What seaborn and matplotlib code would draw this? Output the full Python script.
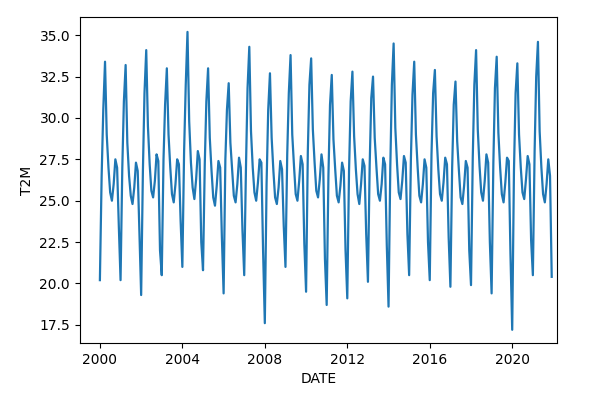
import pandas as pd
import matplotlib.pyplot as plt
import matplotlib.dates as mdates
import seaborn as sns

# monthly T2M values, Jan..Dec per year
t2m_2000 = [20.2, 26.5, 30.5, 33.4, 29.0, 27.0, 25.5, 25.0, 26.0, 27.5, 27.0, 23.5]
t2m_2001 = [20.2, 27.0, 31.0, 33.2, 28.5, 26.5, 25.3, 24.8, 25.8, 27.3, 26.8, 23.0]
t2m_2002 = [19.3, 26.8, 31.5, 34.1, 29.5, 27.2, 25.6, 25.2, 26.2, 27.8, 27.4, 22.0]
t2m_2003 = [20.5, 27.5, 30.8, 33.0, 29.0, 27.0, 25.4, 24.9, 26.0, 27.5, 27.2, 23.8]
t2m_2004 = [21.0, 28.0, 32.0, 35.2, 29.8, 27.3, 25.8, 25.1, 26.3, 28.0, 27.5, 22.5]
t2m_2005 = [20.8, 27.2, 31.0, 33.0, 28.8, 26.8, 25.2, 24.7, 25.9, 27.4, 27.0, 22.8]
t2m_2006 = [19.4, 27.5, 30.5, 32.1, 28.5, 26.9, 25.3, 24.9, 26.0, 27.6, 27.0, 23.2]
t2m_2007 = [20.5, 27.0, 31.8, 34.3, 29.2, 27.0, 25.5, 25.0, 26.1, 27.5, 27.3, 22.0]
t2m_2008 = [17.6, 26.0, 30.5, 32.7, 28.8, 26.8, 25.2, 24.8, 25.8, 27.4, 26.9, 23.5]
t2m_2009 = [21.0, 27.8, 31.5, 33.8, 29.0, 27.1, 25.4, 25.0, 26.2, 27.7, 27.2, 22.4]
t2m_2010 = [19.5, 28.0, 32.0, 33.6, 29.3, 27.3, 25.6, 25.2, 26.3, 27.8, 27.0, 21.5]
t2m_2011 = [18.7, 26.5, 30.8, 32.6, 28.7, 26.9, 25.3, 24.9, 25.9, 27.3, 26.8, 22.0]
t2m_2012 = [19.1, 26.8, 31.0, 32.8, 28.9, 26.9, 25.4, 24.8, 26.0, 27.5, 27.1, 23.0]
t2m_2013 = [20.1, 27.2, 31.2, 32.5, 28.8, 27.0, 25.4, 25.0, 26.0, 27.6, 27.2, 22.3]
t2m_2014 = [18.6, 27.0, 32.0, 34.5, 29.4, 27.2, 25.5, 25.1, 26.2, 27.7, 27.3, 23.0]
t2m_2015 = [20.5, 27.5, 31.4, 33.4, 29.0, 27.0, 25.3, 24.9, 26.0, 27.5, 27.0, 22.5]
t2m_2016 = [20.2, 27.8, 31.5, 32.9, 28.9, 26.9, 25.4, 25.0, 26.1, 27.6, 27.2, 22.8]
t2m_2017 = [19.8, 27.0, 30.8, 32.2, 28.6, 26.8, 25.2, 24.8, 25.9, 27.4, 27.0, 22.0]
t2m_2018 = [19.9, 27.6, 32.0, 34.1, 29.3, 27.1, 25.5, 25.0, 26.2, 27.8, 27.3, 22.5]
t2m_2019 = [19.4, 27.3, 31.8, 33.7, 29.1, 27.0, 25.4, 24.9, 26.1, 27.6, 27.4, 21.8]
t2m_2020 = [17.2, 26.8, 31.5, 33.3, 29.0, 27.0, 25.5, 25.1, 26.3, 27.7, 27.2, 22.6]
t2m_2021 = [20.5, 28.0, 32.5, 34.6, 29.2, 27.0, 25.4, 24.9, 26.0, 27.5, 26.5, 20.4]

years = [t2m_2000, t2m_2001, t2m_2002, t2m_2003, t2m_2004, t2m_2005, t2m_2006,
         t2m_2007, t2m_2008, t2m_2009, t2m_2010, t2m_2011, t2m_2012, t2m_2013,
         t2m_2014, t2m_2015, t2m_2016, t2m_2017, t2m_2018, t2m_2019, t2m_2020,
         t2m_2021]
values = [v for y in years for v in y]
dates = pd.date_range('2000-01-01', periods=len(values), freq='MS')
df = pd.DataFrame({'DATE': dates, 'T2M': values})

fig, ax = plt.subplots(figsize=(6, 4.05), dpi=100)
sns.lineplot(data=df, x='DATE', y='T2M', ax=ax, color='#1f77b4', linewidth=1.6)
ax.set_ylim(16.4, 36.1)
ax.set_yticks([17.5, 20.0, 22.5, 25.0, 27.5, 30.0, 32.5, 35.0])
ax.xaxis.set_major_locator(mdates.YearLocator(4))
ax.xaxis.set_major_formatter(mdates.DateFormatter('%Y'))
ax.set_xlim(pd.Timestamp('1999-01-10'), pd.Timestamp('2022-03-01'))
plt.subplots_adjust(left=0.133, right=0.928, top=0.958, bottom=0.153)
plt.savefig('out.png')
